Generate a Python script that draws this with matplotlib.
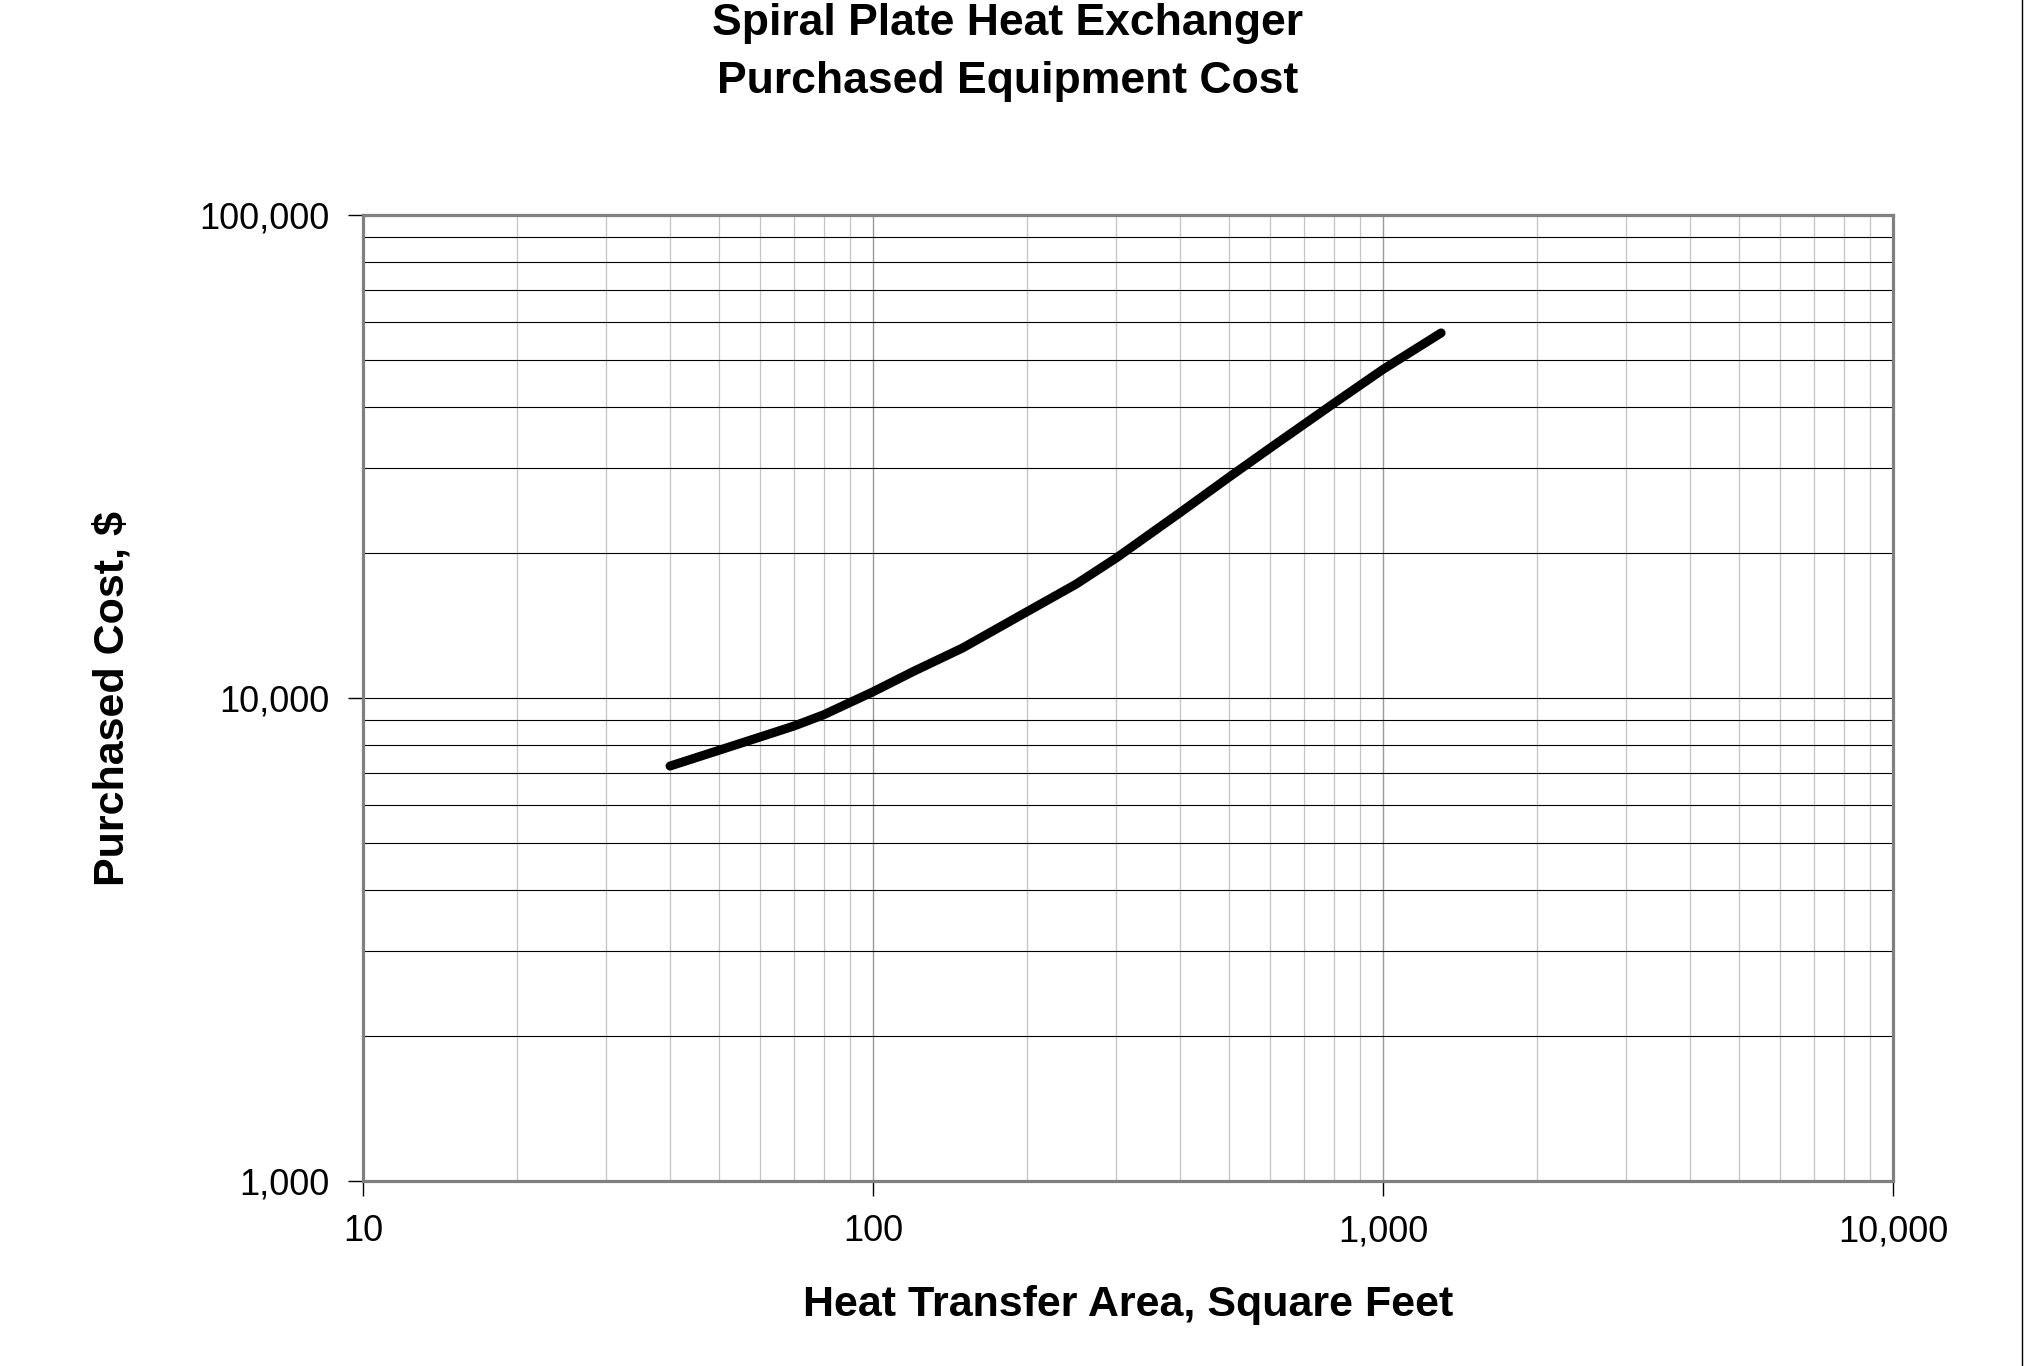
import matplotlib
matplotlib.use('Agg')
import matplotlib.pyplot as plt
from matplotlib.ticker import FuncFormatter, LogLocator, NullFormatter
from matplotlib.lines import Line2D

# values
area = [40, 50, 60, 70, 80, 100, 120, 150, 200, 250, 300, 400, 500, 600, 800, 1000, 1300]
cost = [7230, 7800, 8300, 8750, 9230, 10300, 11350, 12700, 15070, 17200, 19500, 24200, 28700, 32900, 40700, 47900, 57000]

title_lines = ['Spiral Plate Heat Exchanger', 'Purchased Equipment Cost']
xlabel = 'Heat Transfer Area, Square Feet'
ylabel = 'Purchased Cost, $'

plt.rcParams['font.family'] = ['Liberation Sans', 'DejaVu Sans']

fig = plt.figure(figsize=(20.31, 13.66), dpi=100)
ax = fig.add_axes([363/2031, 1 - 1181/1366, (1893-363)/2031, (1181-215)/1366])

ax.plot(area, cost, color='black', lw=6.5, solid_capstyle='round', solid_joinstyle='round', zorder=5)

ax.set_xscale('log')
ax.set_yscale('log')
ax.set_xlim(10, 10000)
ax.set_ylim(1000, 100000)

fmt = FuncFormatter(lambda v, p: '{:,.0f}'.format(v))
ax.xaxis.set_major_formatter(fmt)
ax.yaxis.set_major_formatter(fmt)
ax.xaxis.set_minor_formatter(NullFormatter())
ax.yaxis.set_minor_formatter(NullFormatter())
ax.xaxis.set_minor_locator(LogLocator(base=10, subs=range(2, 10)))
ax.yaxis.set_minor_locator(LogLocator(base=10, subs=range(2, 10)))

ax.grid(which='both', axis='y', color='black', lw=0.8)
ax.grid(which='major', axis='x', color='#999999', lw=1.0)
ax.grid(which='minor', axis='x', color='#c4c4c4', lw=0.9)
ax.set_axisbelow(True)

for s in ax.spines.values():
    s.set_color('#808080')
    s.set_linewidth(2.3)

ax.tick_params(which='major', direction='out', length=11, width=1, color='black',
               labelsize=26, pad=13)
ax.tick_params(which='minor', length=0)

ax.set_xlabel(xlabel, fontsize=31, fontweight='bold', labelpad=26)
ax.set_ylabel(ylabel, fontsize=31, fontweight='bold', labelpad=48)

fig.text(0.4963, 1 - 23/1366, title_lines[0], ha='center', va='center', fontsize=32, fontweight='bold')
fig.text(0.4963, 1 - 81/1366, title_lines[1], ha='center', va='center', fontsize=32, fontweight='bold')

fig.add_artist(Line2D([2022/2031, 2022/2031], [0, 1], color='black', lw=1.0))

plt.savefig('out.png', dpi=100)
